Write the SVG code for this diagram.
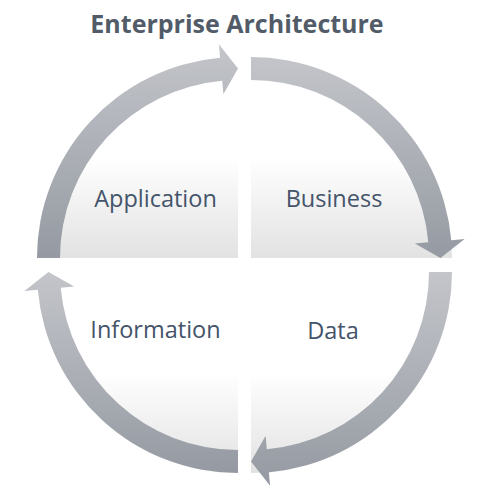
<svg xmlns="http://www.w3.org/2000/svg" width="499" height="494" viewBox="0 0 499 494">
  <defs>
    <linearGradient id="quadFill" x1="0" y1="0" x2="0" y2="1">
      <stop offset="0" stop-color="#ffffff"/>
      <stop offset="0.5" stop-color="#ffffff"/>
      <stop offset="1" stop-color="#e2e2e2"/>
    </linearGradient>
    <linearGradient id="arrowFill" x1="0" y1="0" x2="0" y2="1">
      <stop offset="0" stop-color="#c3c5ca"/>
      <stop offset="1" stop-color="#959aa2"/>
    </linearGradient>
  </defs>
  <style>
    .quad { fill: url(#quadFill); }
    .arrow { fill: url(#arrowFill); }
    .label { font-family: "Open Sans", "Liberation Sans", sans-serif; font-size: 23.5px; fill: #44546a; text-anchor: middle; }
    .title { font-family: "Open Sans", "Liberation Sans", sans-serif; font-size: 25px; font-weight: bold; fill: #525c68; text-anchor: middle; }
  </style>
  <rect width="499" height="494" fill="#ffffff"/>
  <text class="title" x="237" y="33">Enterprise Architecture</text>

  <g id="application">
    <path class="quad" d="M238,258 L37,258 A201,201 0 0 1 238,57 Z"/>
    <text class="label" x="155.5" y="207">Application</text>
  </g>
  <g id="business">
    <path class="quad" d="M251,258 L251,57 A201,201 0 0 1 452,258 Z"/>
    <text class="label" x="334" y="207">Business</text>
  </g>
  <g id="data">
    <path class="quad" d="M251,272 L452,272 A201,201 0 0 1 251,473 Z"/>
    <text class="label" x="333" y="339">Data</text>
  </g>
  <g id="information">
    <path class="quad" d="M238,272 L238,473 A201,201 0 0 1 37,272 Z"/>
    <text class="label" x="155.5" y="338">Information</text>
  </g>

  <g id="connectors">
    <path class="arrow" d="M37,258 A201,201 0 0 1 220.13,57.8 L218.93,44.36 L238,68.5 L223.38,94.16 L222.18,80.7 A178,178 0 0 0 60,258 Z"/>
    <path class="arrow" d="M251,57 A201,201 0 0 1 451.2,240.13 L464.64,238.93 L440.5,258 L414.84,243.38 L428.3,242.18 A178,178 0 0 0 251,80 Z"/>
    <path class="arrow" d="M452,272 A201,201 0 0 1 268.87,472.2 L270.07,485.64 L251,461.5 L265.62,435.84 L266.82,449.3 A178,178 0 0 0 429,272 Z"/>
    <path class="arrow" d="M238,473 A201,201 0 0 1 37.8,289.87 L24.36,291.07 L48.5,272 L74.16,286.62 L60.7,287.82 A178,178 0 0 0 238,450 Z"/>
  </g>
</svg>
